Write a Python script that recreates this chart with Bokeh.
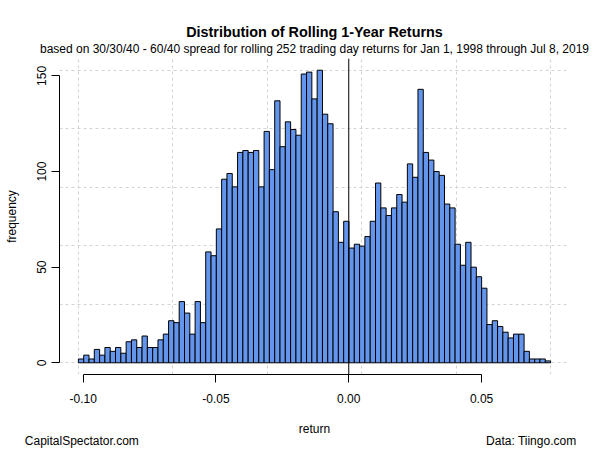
import numpy as np
from bokeh.plotting import figure
from bokeh.models import Range1d, FixedTicker, PrintfTickFormatter, Span, Title, LinearAxis
from bokeh.embed import file_html
from bokeh.resources import INLINE

# ---------------- data ----------------
ret_min = -0.1018   # smallest rolling 1-year return spread
ret_max = 0.0760    # largest rolling 1-year return spread
counts = [
    2, 4, 2, 7, 4, 8, 6, 8, 5, 11,
    12, 8, 14, 8, 8, 12, 15, 22, 21, 32,
    26, 15, 32, 21, 58, 56, 70, 96, 99, 92,
    110, 111, 110, 111, 92, 121, 101, 137, 113, 126,
    122, 119, 151, 152, 138, 153, 130, 125, 79, 63,
    74, 60, 62, 61, 66, 74, 94, 81, 77, 81,
    88, 84, 104, 97, 143, 110, 106, 100, 98, 83,
    81, 62, 51, 63, 50, 45, 39, 20, 22, 19,
    16, 13, 15, 15, 6, 2, 2, 2, 1,
]
x_ticks = [-0.10, -0.05, 0.00, 0.05]
y_ticks = [0, 50, 100, 150]

title_text = "Distribution of Rolling 1-Year Returns"
subtitle_text = ("based on 30/30/40 - 60/40 spread for rolling 252 trading day "
                 "returns for Jan 1, 1998 through Jul 8, 2019")
x_label = "return"
y_label = "frequency"
left_note = "CapitalSpectator.com"
right_note = "Data: Tiingo.com"

# ---------------- derived ----------------
n = len(counts)
edges = np.linspace(ret_min, ret_max, n + 1)
ymax = max(counts)
pad_x = 0.04 * (ret_max - ret_min)
x0, x1 = ret_min - pad_x, ret_max + pad_x
y0, y1 = -0.04 * ymax, 1.04 * ymax

W, H = 600, 450
BL, BR, BT, BB = 59, 31, 58, 74
FW = W - BL - BR


def dx(px):
    return round(x0 + (px - BL) * (x1 - x0) / FW, 4)


FONT = "Liberation Sans"

p = figure(width=W, height=H, x_range=Range1d(x0, x1), y_range=Range1d(y0, y1),
           output_backend="svg", toolbar_location=None, title=None,
           min_border_left=BL, min_border_right=BR,
           min_border_top=BT, min_border_bottom=BB)
p.outline_line_color = None
p.background_fill_color = "white"
p.border_fill_color = "white"

# grid
p.xgrid.ticker = FixedTicker(ticks=list(np.linspace(ret_min, ret_max, 6)))
p.ygrid.ticker = FixedTicker(ticks=list(np.linspace(0, ymax, 6)))
p.grid.grid_line_color = "#D3D3D3"
p.grid.grid_line_dash = "3 3"
p.grid.grid_line_width = 1

# bars
p.quad(left=edges[:-1], right=edges[1:], bottom=0, top=counts,
       fill_color="#6495ED", line_color="black", line_width=1)

# zero line
p.add_layout(Span(location=0, dimension="height", line_color="black", line_width=1))

# axes
p.xaxis.ticker = FixedTicker(ticks=x_ticks)
p.xaxis.formatter = PrintfTickFormatter(format="%.2f")
p.xaxis.bounds = (min(x_ticks), max(x_ticks))
p.yaxis.ticker = FixedTicker(ticks=y_ticks)
p.yaxis.bounds = (min(y_ticks), max(y_ticks))
p.yaxis.major_label_orientation = "vertical"
for ax in (p.xaxis, p.yaxis):
    ax.axis_line_color = "black"
    ax.axis_line_width = 1
    ax.major_tick_line_color = "black"
    ax.major_tick_out = 8
    ax.major_tick_in = 0
    ax.minor_tick_line_color = None
    ax.major_label_text_font = FONT
    ax.major_label_text_font_size = "12px"
    ax.major_label_text_color = "black"
    ax.axis_label_text_font = FONT
    ax.axis_label_text_font_size = "12px"
    ax.axis_label_text_font_style = "normal"
    ax.axis_label_text_color = "black"
p.xaxis.major_label_standoff = 11
p.yaxis.major_label_standoff = 5
p.xaxis.axis_label = x_label
p.yaxis.axis_label = y_label
p.xaxis.axis_label_standoff = 16
p.yaxis.axis_label_standoff = 16

# source notes on one row below the axis title
note_ticks = [dx(24 + 57.35), dx(576 - 45.35)]
notes = LinearAxis(ticker=FixedTicker(ticks=note_ticks),
                   major_label_overrides={note_ticks[0]: left_note, note_ticks[1]: right_note},
                   axis_line_color=None, major_tick_line_color=None,
                   minor_tick_line_color=None, major_tick_out=0, major_tick_in=0,
                   major_label_standoff=-5, major_label_text_font=FONT,
                   major_label_text_font_size="12px", major_label_text_color="black")
p.add_layout(notes, "below")

# titles (first added sits closest to the plot)
p.add_layout(Title(text=subtitle_text, align="center", text_font=FONT,
                   text_font_size="12px", text_font_style="normal",
                   text_color="black", standoff=6), "above")
p.add_layout(Title(text=title_text, align="center", text_font=FONT,
                   text_font_size="14.4px", text_font_style="bold",
                   text_color="black", standoff=-6), "above")

open("out.html", "w").write(file_html(p, INLINE))
